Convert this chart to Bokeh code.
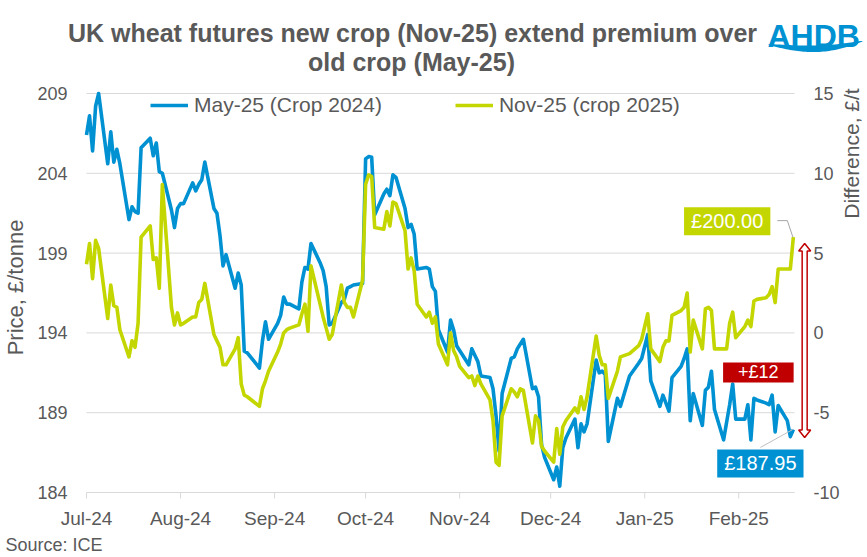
import math
import pandas as pd
from bokeh.plotting import figure
from bokeh.models import (Range1d, FixedTicker, DatetimeTickFormatter, Title,
                          Legend, LegendItem, Label, PolyAnnotation)
from bokeh.core.properties import value
from bokeh.embed import file_html
from bokeh.resources import INLINE

# ---------------- data ----------------
months = [(2024, 7), (2024, 8), (2024, 9), (2024, 10), (2024, 11), (2024, 12), (2025, 1), (2025, 2)]
jul24 = [1, 2, 3, 4, 5, 8, 9, 10, 11, 12, 15, 16, 17, 18, 19, 22, 23, 24, 25, 26, 29, 30, 31]
aug24 = [1, 2, 5, 6, 7, 8, 9, 12, 13, 14, 15, 16, 19, 20, 21, 22, 23, 27, 28, 29, 30]
sep24 = [2, 3, 4, 5, 6, 9, 10, 11, 12, 13, 16, 17, 18, 19, 20, 23, 24, 25, 26, 27, 30]
oct24 = [1, 2, 3, 4, 7, 8, 9, 10, 11, 14, 15, 16, 17, 18, 21, 22, 23, 24, 25, 28, 29, 30, 31]
nov24 = [1, 4, 5, 6, 7, 8, 11, 12, 13, 14, 15, 18, 19, 20, 21, 22, 25, 26, 27, 28, 29]
dec24 = [2, 3, 4, 5, 6, 9, 10, 11, 12, 13, 16, 17, 18, 19, 20, 23, 24, 27, 30, 31]
jan25 = [2, 3, 6, 7, 8, 9, 10, 13, 14, 15, 16, 17, 20, 21, 22, 23, 24, 27, 28, 29, 30, 31]
feb25 = [3, 4, 5, 6, 7, 10, 11, 12, 13, 14, 17, 18, 19]
day_lists = [jul24, aug24, sep24, oct24, nov24, dec24, jan25, feb25]

# May-25 (Crop 2024), GBP/t
may25 = [
    206.4, 207.6, 205.4, 208.2, 209.0, 204.6, 206.6, 204.7, 205.5, 204.6,
    201.1, 201.9, 201.6, 201.5, 205.6, 206.2, 205.1, 205.9, 204.1, 204.0,
    201.7, 200.6, 201.8,
    202.1, 202.1, 203.4, 202.9, 203.3, 203.6, 204.7, 201.8, 201.5, 200.1,
    198.2, 198.9, 196.8, 197.75, 197.0, 192.85, 192.75, 191.8, 193.5, 194.7, 193.6,
    194.6, 195.1, 196.25, 195.8, 195.8, 195.5, 197.2, 198.1, 198.0, 199.6,
    198.4, 197.9, 196.9, 194.5, 194.6, 195.9, 196.1, 196.8, 196.9, 197.0, 197.1,
    204.9, 205.05, 205.0, 201.4, 202.7, 203.0, 202.6, 203.9, 203.75, 201.8,
    200.6, 200.8, 200.2, 198.0, 198.1, 198.0, 196.9, 196.6, 194.2, 192.8,
    194.8, 194.2, 193.2,
    192.9, 192.0, 193.0, 192.6, 192.2, 191.3, 191.2, 190.5, 188.8, 186.6,
    190.2, 192.4, 192.5, 193.0, 193.3, 193.6, 190.5, 190.6, 190.0, 187.0, 186.2,
    184.8, 185.6, 184.4, 186.8, 187.4, 188.6, 186.8, 188.3, 187.8, 188.3,
    192.3, 191.5, 191.6, 191.4, 187.2, 189.9, 189.4, 191.3, 192.1, 192.4,
    193.9, 191.0, 189.4, 190.1, 189.6, 189.1, 191.2, 191.9, 192.4, 193.0,
    188.5, 190.2, 188.2, 190.4, 190.6, 191.6, 189.2, 187.3, 188.4, 189.5, 190.8, 188.6,
    188.6, 189.5, 187.3, 189.9, 189.8, 189.6, 189.5, 190.1, 187.8, 189.45, 188.5, 187.5, 187.95,
]

# Nov-25 (crop 2025), GBP/t
nov25 = [
    198.3, 199.6, 197.4, 199.8, 199.3, 194.9, 197.0, 195.7, 195.6, 194.2,
    192.5, 193.5, 193.1, 194.6, 200.0, 200.7, 198.6, 198.7, 196.8, 203.3,
    195.6, 194.5, 195.25,
    194.5, 194.6, 195.0, 195.0, 195.9, 196.1, 197.1, 193.9, 193.5, 193.1,
    192.0, 192.0, 193.0, 193.7, 190.8, 190.1, 190.0, 189.4, 190.5, 191.0, 191.6,
    192.8, 193.3, 194.0, 194.2, 194.3, 194.5, 195.2, 195.8, 194.1, 198.2,
    195.8, 195.0, 194.3, 193.6, 193.9, 197.0, 195.9, 195.6, 195.6, 195.0, 197.3,
    203.3, 203.9, 203.8, 200.6, 200.5, 201.6, 200.7, 202.2, 202.1, 200.4,
    198.0, 198.7, 197.9, 195.8, 195.0, 195.3, 194.6, 195.0, 193.3, 192.0,
    194.0, 192.9, 192.5,
    191.9, 191.2, 191.3, 190.7, 191.3, 190.8, 189.8, 188.5, 185.9, 185.7,
    188.8, 190.5, 190.3, 190.0, 190.5, 190.4, 187.1, 188.8, 188.5, 186.9, 186.6,
    185.9, 188.0, 186.4, 188.1, 188.5, 189.3, 189.0, 190.0, 189.2, 190.0,
    193.8, 192.6, 192.0, 192.0, 189.9, 191.6, 192.5, 192.7, 193.2, 193.6,
    195.2, 193.0, 192.2, 193.1, 193.5, 193.5, 195.1, 195.4, 195.6, 196.5,
    192.8, 194.8, 193.0, 195.5, 195.6, 195.4, 193.0, 193.0, 193.0, 194.6, 195.3, 193.7,
    194.4, 194.8, 194.4, 196.0, 196.1, 196.2, 196.4, 196.9, 195.9, 198.0, 198.0, 198.0, 200.0,
]

month_ticks = ["2024-07-01", "2024-08-01", "2024-09-01", "2024-10-01",
               "2024-11-01", "2024-12-01", "2025-01-01", "2025-02-01"]
price_ticks = [184, 189, 194, 199, 204, 209]
price_labels = ["184", "189", "194", "199", "204", "209"]
diff_ticks = [-10, -5, 0, 5, 10, 15]
diff_labels = ["-10", "-5", "0", "5", "10", "15"]

dates = [pd.Timestamp(y, m, d) for (y, m), days in zip(months, day_lists) for d in days]
assert len(dates) == len(may25) == len(nov25), (len(dates), len(may25), len(nov25))

# ---------------- styling / geometry ----------------
FONT = "Liberation Sans"
GREY = "#595959"
GRID = "#d9d9d9"
BLUE = "#0091d2"
LIME = "#c4d600"
RED = "#c00000"

W, H = 867, 557
X0 = 86                # page x of 1 Jul 2024
X1 = 794               # page x where grid / axis line end
Y_TOP = 93             # page y of 209
Y_AX = 492             # page y of 184 (x axis line)
FRAME_BOT = 499        # page y of the bottom of the plotting frame
DAY_MS = 86400000.0


def ms(ts):
    return pd.Timestamp(ts).timestamp() * 1000.0


x_start = ms("2024-07-01")
x_data_end = ms("2025-02-19 09:00")
px_day = (X1 - X0) / ((x_data_end - x_start) / DAY_MS)
px_unit = (Y_AX - Y_TOP) / (209 - 184)


def xdata(page_x):
    return x_start + (page_x - X0) / px_day * DAY_MS


def ydata(page_y):
    return 184 + (Y_AX - page_y) / px_unit


p = figure(width=W, height=H, x_axis_type="datetime",
           x_range=Range1d(xdata(0), xdata(W)), y_range=Range1d(ydata(FRAME_BOT), ydata(0)),
           y_axis_location=None,
           min_border_left=0, min_border_right=0, min_border_top=0,
           min_border_bottom=H - FRAME_BOT,
           output_backend="svg", toolbar_location=None)
p.outline_line_color = None
p.background_fill_color = "white"
p.border_fill_color = "white"
p.extra_y_ranges = {"diff": Range1d(-10 - (FRAME_BOT - Y_AX) / px_unit, -10 + Y_AX / px_unit)}
p.xgrid.visible = False
p.ygrid.visible = False

# x axis (dates): month labels below the frame
xa = p.xaxis[0]
xa.ticker = FixedTicker(ticks=[ms(t) for t in month_ticks])
xa.formatter = DatetimeTickFormatter(days="%b-%y", months="%b-%y", years="%b-%y",
                                     hours="%b-%y", minutes="%b-%y", hourmin="%b-%y")
xa.axis_line_color = None
xa.major_tick_line_color = None
xa.major_tick_out = 0
xa.major_tick_in = 0
xa.minor_tick_line_color = None
xa.minor_tick_out = 0
xa.minor_tick_in = 0
xa.major_label_text_font = FONT
xa.major_label_text_font_size = "19px"
xa.major_label_text_color = GREY
xa.major_label_standoff = 8

p.add_layout(Title(text="Source: ICE", align="left", offset=5, standoff=2,
                   text_font=FONT, text_font_size="18px", text_font_style="normal",
                   text_color=GREY), "below")

# horizontal gridlines over the data span (the 184 line doubles as the axis line)
p.segment(x0=[x_start] * len(price_ticks), y0=price_ticks,
          x1=[x_data_end] * len(price_ticks), y1=price_ticks,
          line_color=GRID, line_width=1)
# month tick marks below the axis line
tick_ms = [ms(t) for t in month_ticks]
p.segment(x0=tick_ms, y0=[184] * len(tick_ms), x1=tick_ms, y1=[184 - 6 / px_unit] * len(tick_ms),
          line_color=GRID, line_width=1)

# price (left) and difference (right) scale labels
p.text(x=[xdata(67)] * len(price_ticks), y=price_ticks, text=price_labels,
       text_font=value(FONT), text_font_size=value("18px"), text_color=GREY,
       text_align="right", text_baseline="middle")
p.text(x=[xdata(813)] * len(diff_ticks), y=diff_ticks, text=diff_labels, y_range_name="diff",
       text_font=value(FONT), text_font_size=value("18px"), text_color=GREY,
       text_align="left", text_baseline="middle")

# series
r_may = p.line(dates, may25, line_color=BLUE, line_width=3.6, line_join="round")
r_nov = p.line(dates, nov25, line_color=LIME, line_width=3.6, line_join="round")

legend = Legend(items=[LegendItem(label="May-25 (Crop 2024)", renderers=[r_may]),
                       LegendItem(label="Nov-25 (crop 2025)", renderers=[r_nov])],
                orientation="horizontal", location=(150, FRAME_BOT - 117),
                background_fill_alpha=0, border_line_color=None,
                label_text_font=FONT, label_text_font_size="21px", label_text_color=GREY,
                glyph_width=38, glyph_height=20, label_standoff=6, spacing=73,
                padding=2, margin=0)
p.add_layout(legend)


def slabel(text, px, py, **kw):
    return Label(x=px, y=FRAME_BOT - py, x_units="screen", y_units="screen",
                 text=text, text_font=FONT, **kw)


# title
p.add_layout(slabel("UK wheat futures new crop (Nov-25) extend premium over", 412, 32,
                    text_font_size="25px", text_font_style="bold", text_color=GREY,
                    text_align="center", text_baseline="alphabetic"))
p.add_layout(slabel("old crop (May-25)", 411, 61,
                    text_font_size="25px", text_font_style="bold", text_color=GREY,
                    text_align="center", text_baseline="alphabetic"))

# logo
p.add_layout(slabel("AHDB", 767, 35, text_font_size="32px", text_font_style="bold",
                    text_color=BLUE, text_align="left", text_baseline="alphabetic"))
sw_x, sw_top, sw_bot = [], [], []
n = 48
for i in range(n + 1):
    t = i / n
    xx = 768 + 94 * t
    yc = 44 + 8 * math.sin(math.pi * t * 0.85) - 7 * t
    th = 6.0 * math.sin(math.pi * t) ** 0.8 + 0.5
    sw_x.append(xx)
    sw_top.append(FRAME_BOT - (yc - th / 2))
    sw_bot.append(FRAME_BOT - (yc + th / 2))
p.add_layout(PolyAnnotation(xs=sw_x + sw_x[::-1], ys=sw_top + sw_bot[::-1],
                            xs_units="screen", ys_units="screen",
                            fill_color=BLUE, fill_alpha=1, line_color=None))

# axis titles
p.add_layout(slabel("Price, £/tonne", 15, 287, angle=math.pi / 2, text_font_size="22px",
                    text_color=GREY, text_align="center", text_baseline="middle"))
p.add_layout(slabel("Difference, £/t", 851, 153, angle=math.pi / 2, text_font_size="21px",
                    text_color=GREY, text_align="center", text_baseline="middle"))

# end-point annotations
last_x = ms(dates[-1])
last_may = may25[-1]
last_nov = nov25[-1]
spread = last_nov - last_may


def off_x(px):
    return last_x + px / px_day * DAY_MS


def off_y(base, px_up):
    return base + px_up / px_unit


p.line([off_x(-16), off_x(-6), off_x(-0.5)], [off_y(last_nov, 16.5), off_y(last_nov, 16.5), last_nov],
       line_color="#a6a6a6", line_width=1)
p.line([off_x(-33), off_x(-0.5)], [off_y(last_may, -18), last_may],
       line_color="#bfbfbf", line_width=1)

p.add_layout(Label(x=last_x, y=last_nov, x_offset=-23, y_offset=16, text=f"£{last_nov:.2f}",
                   text_font=FONT, text_font_size="20px", text_color="white",
                   text_align="right", text_baseline="middle",
                   background_fill_color=LIME, padding=(7, 3)))
p.add_layout(Label(x=last_x, y=last_may, x_offset=-33, y_offset=-34, text=f"£{last_may:.2f}",
                   text_font=FONT, text_font_size="20px", text_color="white",
                   text_align="center", text_baseline="middle",
                   background_fill_color=BLUE, padding=(7, 3)))
p.add_layout(Label(x=last_x, y=last_may, x_offset=-35, y_offset=57, text=f"+£{spread:.0f}",
                   text_font=FONT, text_font_size="18px", text_color="white",
                   text_align="center", text_baseline="middle",
                   background_fill_color=RED, padding=(15, 0)))

cx = off_x(11.3)
hw = 2.5 / px_day * DAY_MS
HW = 6.0 / px_day * DAY_MS
hl = 7.5 / px_unit
ytop = last_nov - 0.4
ybot = last_may - 0.5
arrow_xs = [cx - hw, cx - HW, cx, cx + HW, cx + hw, cx + hw, cx + HW, cx, cx - HW, cx - hw]
arrow_ys = [ybot + hl, ybot + hl, ybot, ybot + hl, ybot + hl, ytop - hl, ytop - hl, ytop, ytop - hl, ytop - hl]
p.add_layout(PolyAnnotation(xs=arrow_xs, ys=arrow_ys, fill_color="white", fill_alpha=1,
                            line_color=RED, line_alpha=1, line_width=1.5))

open("out.html", "w").write(file_html(p, INLINE))
